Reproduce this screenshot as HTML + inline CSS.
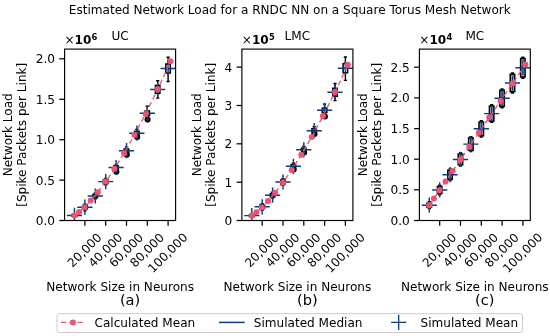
<!DOCTYPE html>
<html lang="en"><head><meta charset="utf-8"><title>Estimated Network Load</title>
<style>html,body{margin:0;padding:0;background:#fff}svg{display:block}</style></head>
<body>
<svg width="550" height="336" viewBox="0 0 550 336" font-family='"DejaVu Sans", "Liberation Sans", sans-serif' font-size="12.07" fill="#000">
<rect width="550" height="336" fill="#fff"/>
<text x="289.8" y="14.3" text-anchor="middle" font-size="12.07">Estimated Network Load for a RNDC NN on a Square Torus Mesh Network</text>
<g>
<clipPath id="c0"><rect x="64.6" y="49.1" width="111.0" height="171.4"/></clipPath>
<g clip-path="url(#c0)">
<path d="M74.5 213.6V214.4M74.5 216.4V217.2M72.9 213.6h3.2M72.9 217.2h3.2" stroke="#000" stroke-width="1.4" fill="none"/>
<rect x="72.2" y="214.4" width="4.5" height="2.0" stroke="#000" stroke-width="1.5" fill="none"/>
<path d="M72.2 215.7h4.5" stroke="#0B3D7E" stroke-width="1.4"/>
<path d="M66.9 215.4h15.2M74.5 207.8v15.2" stroke="#0B3D7E" stroke-width="1.45" fill="none"/>
<path d="M84.9 204.2V205.4M84.9 209.0V210.8M83.3 204.2h3.2M83.3 210.8h3.2" stroke="#000" stroke-width="1.4" fill="none"/>
<rect x="82.6" y="205.4" width="4.5" height="3.6" stroke="#000" stroke-width="1.5" fill="none"/>
<path d="M82.6 207.5h4.5" stroke="#0B3D7E" stroke-width="1.4"/>
<path d="M77.3 207.2h15.2M84.9 199.6v15.2" stroke="#0B3D7E" stroke-width="1.45" fill="none"/>
<path d="M95.3 193.0V194.4M95.3 197.6V198.8M93.7 193.0h3.2M93.7 198.8h3.2" stroke="#000" stroke-width="1.4" fill="none"/>
<rect x="93.0" y="194.4" width="4.5" height="3.2" stroke="#000" stroke-width="1.5" fill="none"/>
<path d="M93.0 196.3h4.5" stroke="#0B3D7E" stroke-width="1.4"/>
<path d="M87.7 196.0h15.2M95.3 188.4v15.2" stroke="#0B3D7E" stroke-width="1.45" fill="none"/>
<path d="M105.7 178.4V179.6M105.7 183.6V184.8M104.1 178.4h3.2M104.1 184.8h3.2" stroke="#000" stroke-width="1.4" fill="none"/>
<rect x="103.4" y="179.6" width="4.5" height="4.0" stroke="#000" stroke-width="1.5" fill="none"/>
<path d="M103.4 181.9h4.5" stroke="#0B3D7E" stroke-width="1.4"/>
<path d="M98.1 181.6h15.2M105.7 174.0v15.2" stroke="#0B3D7E" stroke-width="1.45" fill="none"/>
<path d="M116.1 164.5V165.9M116.1 169.1V170.1M114.5 164.5h3.2M114.5 170.1h3.2" stroke="#000" stroke-width="1.4" fill="none"/>
<rect x="113.8" y="165.9" width="4.5" height="3.2" stroke="#000" stroke-width="1.5" fill="none"/>
<circle cx="116.4" cy="171.7" r="2.1" stroke="#000" stroke-width="1.9" fill="#444"/>
<path d="M113.8 167.8h4.5" stroke="#0B3D7E" stroke-width="1.4"/>
<path d="M108.5 167.5h15.2M116.1 159.9v15.2" stroke="#0B3D7E" stroke-width="1.45" fill="none"/>
<path d="M126.5 147.3V149.0M126.5 152.4V153.5M124.9 147.3h3.2M124.9 153.5h3.2" stroke="#000" stroke-width="1.4" fill="none"/>
<rect x="124.2" y="149.0" width="4.5" height="3.4" stroke="#000" stroke-width="1.5" fill="none"/>
<circle cx="126.8" cy="154.7" r="2.1" stroke="#000" stroke-width="1.9" fill="#444"/>
<path d="M124.2 151.0h4.5" stroke="#0B3D7E" stroke-width="1.4"/>
<path d="M118.9 150.7h15.2M126.5 143.1v15.2" stroke="#0B3D7E" stroke-width="1.45" fill="none"/>
<path d="M136.9 129.2V131.3M136.9 135.1V136.1M135.3 129.2h3.2M135.3 136.1h3.2" stroke="#000" stroke-width="1.4" fill="none"/>
<rect x="134.6" y="131.3" width="4.5" height="3.8" stroke="#000" stroke-width="1.5" fill="none"/>
<circle cx="137.2" cy="137.0" r="2.1" stroke="#000" stroke-width="1.9" fill="#444"/>
<path d="M134.6 133.5h4.5" stroke="#0B3D7E" stroke-width="1.4"/>
<path d="M129.3 133.2h15.2M136.9 125.6v15.2" stroke="#0B3D7E" stroke-width="1.45" fill="none"/>
<path d="M147.3 106.2V111.0M147.3 115.4V116.2M145.7 106.2h3.2M145.7 116.2h3.2" stroke="#000" stroke-width="1.4" fill="none"/>
<rect x="145.0" y="111.0" width="4.5" height="4.4" stroke="#000" stroke-width="1.5" fill="none"/>
<circle cx="147.6" cy="119.6" r="2.1" stroke="#000" stroke-width="1.9" fill="#444"/>
<path d="M145.0 113.5h4.5" stroke="#0B3D7E" stroke-width="1.4"/>
<path d="M139.7 113.2h15.2M147.3 105.6v15.2" stroke="#0B3D7E" stroke-width="1.45" fill="none"/>
<path d="M157.7 80.7V85.4M157.7 93.4V98.1M156.1 80.7h3.2M156.1 98.1h3.2" stroke="#000" stroke-width="1.4" fill="none"/>
<rect x="155.4" y="85.4" width="4.5" height="8.0" stroke="#000" stroke-width="1.5" fill="none"/>
<path d="M155.4 89.7h4.5" stroke="#0B3D7E" stroke-width="1.4"/>
<path d="M150.1 89.4h15.2M157.7 81.8v15.2" stroke="#0B3D7E" stroke-width="1.45" fill="none"/>
<path d="M168.1 57.2V64.0M168.1 73.0V81.5M166.5 57.2h3.2M166.5 81.5h3.2" stroke="#000" stroke-width="1.4" fill="none"/>
<rect x="165.8" y="64.0" width="4.5" height="9.0" stroke="#000" stroke-width="1.5" fill="none"/>
<path d="M165.8 68.8h4.5" stroke="#0B3D7E" stroke-width="1.4"/>
<path d="M160.5 68.5h15.2M168.1 60.9v15.2" stroke="#0B3D7E" stroke-width="1.45" fill="none"/>
<polyline points="74.5,215.6 79.1,212.1 84.5,207.2 90.7,200.6 97.8,192.2 105.7,181.6 114.4,168.8 124.0,153.3 134.4,135.1 145.6,113.9 157.7,89.3 170.6,61.3" stroke="#EE5270" stroke-width="1.3" stroke-dasharray="5.1 3.2" fill="none"/>
<circle cx="74.5" cy="215.6" r="3.0" fill="#EE5270"/>
<circle cx="79.1" cy="212.1" r="3.0" fill="#EE5270"/>
<circle cx="84.5" cy="207.2" r="3.0" fill="#EE5270"/>
<circle cx="90.7" cy="200.6" r="3.0" fill="#EE5270"/>
<circle cx="97.8" cy="192.2" r="3.0" fill="#EE5270"/>
<circle cx="105.7" cy="181.6" r="3.0" fill="#EE5270"/>
<circle cx="114.4" cy="168.8" r="3.0" fill="#EE5270"/>
<circle cx="124.0" cy="153.3" r="3.0" fill="#EE5270"/>
<circle cx="134.4" cy="135.1" r="3.0" fill="#EE5270"/>
<circle cx="145.6" cy="113.9" r="3.0" fill="#EE5270"/>
<circle cx="157.7" cy="89.3" r="3.0" fill="#EE5270"/>
<circle cx="170.6" cy="61.3" r="3.0" fill="#EE5270"/>
</g>
<rect x="64.6" y="49.1" width="111.0" height="171.4" fill="none" stroke="#000" stroke-width="1.15"/>
<path d="M64.6 220.5h-5.3" stroke="#000" stroke-width="1.25"/>
<text x="55.0" y="225.0" text-anchor="end" font-size="12.15">0.0</text>
<path d="M64.6 180.1h-5.3" stroke="#000" stroke-width="1.25"/>
<text x="55.0" y="184.6" text-anchor="end" font-size="12.15">0.5</text>
<path d="M64.6 139.7h-5.3" stroke="#000" stroke-width="1.25"/>
<text x="55.0" y="144.2" text-anchor="end" font-size="12.15">1.0</text>
<path d="M64.6 99.3h-5.3" stroke="#000" stroke-width="1.25"/>
<text x="55.0" y="103.8" text-anchor="end" font-size="12.15">1.5</text>
<path d="M64.6 58.8h-5.3" stroke="#000" stroke-width="1.25"/>
<text x="55.0" y="63.3" text-anchor="end" font-size="12.15">2.0</text>
<path d="M84.9 220.5v5.3" stroke="#000" stroke-width="1.25"/>
<text transform="translate(84.9 250.5) rotate(-45)" x="0" y="3.7" text-anchor="middle">20,000</text>
<path d="M105.7 220.5v5.3" stroke="#000" stroke-width="1.25"/>
<text transform="translate(105.7 250.5) rotate(-45)" x="0" y="3.7" text-anchor="middle">40,000</text>
<path d="M126.5 220.5v5.3" stroke="#000" stroke-width="1.25"/>
<text transform="translate(126.5 250.5) rotate(-45)" x="0" y="3.7" text-anchor="middle">60,000</text>
<path d="M147.3 220.5v5.3" stroke="#000" stroke-width="1.25"/>
<text transform="translate(147.3 250.5) rotate(-45)" x="0" y="3.7" text-anchor="middle">80,000</text>
<path d="M168.1 220.5v5.3" stroke="#000" stroke-width="1.25"/>
<text transform="translate(168.1 253.2) rotate(-45)" x="0" y="3.7" text-anchor="middle">100,000</text>
<text x="64.4" y="44.4">×<tspan font-weight="bold" dx="0.1">10</tspan><tspan font-weight="bold" font-size="8.4" dy="-4.5" dx="0.2">6</tspan></text>
<text x="120.1" y="39.7" text-anchor="middle">UC</text>
<text transform="translate(12.4 134.8) rotate(-90)" text-anchor="middle">Network Load</text>
<text transform="translate(26.1 134.8) rotate(-90)" text-anchor="middle">[Spike Packets per Link]</text>
<text x="120.1" y="290.5" text-anchor="middle">Network Size in Neurons</text>
<text x="130.1" y="305.3" text-anchor="middle" font-size="14.6">(a)</text>
</g>
<g>
<clipPath id="c1"><rect x="241.9" y="49.1" width="111.0" height="171.4"/></clipPath>
<g clip-path="url(#c1)">
<path d="M251.8 213.8V214.6M251.8 216.6V217.4M250.2 213.8h3.2M250.2 217.4h3.2" stroke="#000" stroke-width="1.4" fill="none"/>
<rect x="249.5" y="214.6" width="4.5" height="2.0" stroke="#000" stroke-width="1.5" fill="none"/>
<path d="M249.5 215.9h4.5" stroke="#0B3D7E" stroke-width="1.4"/>
<path d="M244.2 215.6h15.2M251.8 208.0v15.2" stroke="#0B3D7E" stroke-width="1.45" fill="none"/>
<path d="M262.2 203.8V205.0M262.2 208.6V210.2M260.6 203.8h3.2M260.6 210.2h3.2" stroke="#000" stroke-width="1.4" fill="none"/>
<rect x="259.9" y="205.0" width="4.5" height="3.6" stroke="#000" stroke-width="1.5" fill="none"/>
<path d="M259.9 207.1h4.5" stroke="#0B3D7E" stroke-width="1.4"/>
<path d="M254.6 206.8h15.2M262.2 199.2v15.2" stroke="#0B3D7E" stroke-width="1.45" fill="none"/>
<path d="M272.6 192.2V193.6M272.6 196.8V198.0M271.0 192.2h3.2M271.0 198.0h3.2" stroke="#000" stroke-width="1.4" fill="none"/>
<rect x="270.3" y="193.6" width="4.5" height="3.2" stroke="#000" stroke-width="1.5" fill="none"/>
<path d="M270.3 195.5h4.5" stroke="#0B3D7E" stroke-width="1.4"/>
<path d="M265.0 195.2h15.2M272.6 187.6v15.2" stroke="#0B3D7E" stroke-width="1.45" fill="none"/>
<path d="M283.0 178.8V180.0M283.0 184.0V185.2M281.4 178.8h3.2M281.4 185.2h3.2" stroke="#000" stroke-width="1.4" fill="none"/>
<rect x="280.7" y="180.0" width="4.5" height="4.0" stroke="#000" stroke-width="1.5" fill="none"/>
<path d="M280.7 182.3h4.5" stroke="#0B3D7E" stroke-width="1.4"/>
<path d="M275.4 182.0h15.2M283.0 174.4v15.2" stroke="#0B3D7E" stroke-width="1.45" fill="none"/>
<path d="M293.4 163.3V164.7M293.4 167.9V168.9M291.8 163.3h3.2M291.8 168.9h3.2" stroke="#000" stroke-width="1.4" fill="none"/>
<rect x="291.1" y="164.7" width="4.5" height="3.2" stroke="#000" stroke-width="1.5" fill="none"/>
<circle cx="293.7" cy="169.5" r="2.1" stroke="#000" stroke-width="1.9" fill="#444"/>
<path d="M291.1 166.6h4.5" stroke="#0B3D7E" stroke-width="1.4"/>
<path d="M285.8 166.3h15.2M293.4 158.7v15.2" stroke="#0B3D7E" stroke-width="1.45" fill="none"/>
<path d="M303.8 146.4V148.1M303.8 151.5V152.4M302.2 146.4h3.2M302.2 152.4h3.2" stroke="#000" stroke-width="1.4" fill="none"/>
<rect x="301.5" y="148.1" width="4.5" height="3.4" stroke="#000" stroke-width="1.5" fill="none"/>
<circle cx="304.1" cy="152.4" r="2.1" stroke="#000" stroke-width="1.9" fill="#444"/>
<path d="M301.5 150.1h4.5" stroke="#0B3D7E" stroke-width="1.4"/>
<path d="M296.2 149.8h15.2M303.8 142.2v15.2" stroke="#0B3D7E" stroke-width="1.45" fill="none"/>
<path d="M314.2 126.7V128.8M314.2 132.6V133.5M312.6 126.7h3.2M312.6 133.5h3.2" stroke="#000" stroke-width="1.4" fill="none"/>
<rect x="311.9" y="128.8" width="4.5" height="3.8" stroke="#000" stroke-width="1.5" fill="none"/>
<circle cx="314.5" cy="134.1" r="2.1" stroke="#000" stroke-width="1.9" fill="#444"/>
<path d="M311.9 131.0h4.5" stroke="#0B3D7E" stroke-width="1.4"/>
<path d="M306.6 130.7h15.2M314.2 123.1v15.2" stroke="#0B3D7E" stroke-width="1.45" fill="none"/>
<path d="M324.6 104.1V108.1M324.6 112.5V113.3M323.0 104.1h3.2M323.0 113.3h3.2" stroke="#000" stroke-width="1.4" fill="none"/>
<rect x="322.3" y="108.1" width="4.5" height="4.4" stroke="#000" stroke-width="1.5" fill="none"/>
<circle cx="324.9" cy="116.5" r="2.1" stroke="#000" stroke-width="1.9" fill="#444"/>
<path d="M322.3 110.6h4.5" stroke="#0B3D7E" stroke-width="1.4"/>
<path d="M317.0 110.3h15.2M324.6 102.7v15.2" stroke="#0B3D7E" stroke-width="1.45" fill="none"/>
<path d="M335.0 83.5V88.3M335.0 96.3V100.6M333.4 83.5h3.2M333.4 100.6h3.2" stroke="#000" stroke-width="1.4" fill="none"/>
<rect x="332.7" y="88.3" width="4.5" height="8.0" stroke="#000" stroke-width="1.5" fill="none"/>
<path d="M332.7 92.6h4.5" stroke="#0B3D7E" stroke-width="1.4"/>
<path d="M327.4 92.3h15.2M335.0 84.7v15.2" stroke="#0B3D7E" stroke-width="1.45" fill="none"/>
<path d="M345.4 57.0V63.7M345.4 72.7V80.4M343.8 57.0h3.2M343.8 80.4h3.2" stroke="#000" stroke-width="1.4" fill="none"/>
<rect x="343.1" y="63.7" width="4.5" height="9.0" stroke="#000" stroke-width="1.5" fill="none"/>
<path d="M343.1 68.5h4.5" stroke="#0B3D7E" stroke-width="1.4"/>
<path d="M337.8 68.2h15.2M345.4 60.6v15.2" stroke="#0B3D7E" stroke-width="1.45" fill="none"/>
<polyline points="251.8,215.7 256.4,212.3 261.8,207.5 268.0,201.0 275.1,192.8 283.0,182.5 291.7,169.9 301.3,154.8 311.7,136.9 322.9,116.1 335.0,92.1 347.9,64.7" stroke="#EE5270" stroke-width="1.3" stroke-dasharray="5.1 3.2" fill="none"/>
<circle cx="251.8" cy="215.7" r="3.0" fill="#EE5270"/>
<circle cx="256.4" cy="212.3" r="3.0" fill="#EE5270"/>
<circle cx="261.8" cy="207.5" r="3.0" fill="#EE5270"/>
<circle cx="268.0" cy="201.0" r="3.0" fill="#EE5270"/>
<circle cx="275.1" cy="192.8" r="3.0" fill="#EE5270"/>
<circle cx="283.0" cy="182.5" r="3.0" fill="#EE5270"/>
<circle cx="291.7" cy="169.9" r="3.0" fill="#EE5270"/>
<circle cx="301.3" cy="154.8" r="3.0" fill="#EE5270"/>
<circle cx="311.7" cy="136.9" r="3.0" fill="#EE5270"/>
<circle cx="322.9" cy="116.1" r="3.0" fill="#EE5270"/>
<circle cx="335.0" cy="92.1" r="3.0" fill="#EE5270"/>
<circle cx="347.9" cy="64.7" r="3.0" fill="#EE5270"/>
</g>
<rect x="241.9" y="49.1" width="111.0" height="171.4" fill="none" stroke="#000" stroke-width="1.15"/>
<path d="M241.9 220.5h-5.3" stroke="#000" stroke-width="1.25"/>
<text x="232.3" y="225.0" text-anchor="end" font-size="12.15">0</text>
<path d="M241.9 182.2h-5.3" stroke="#000" stroke-width="1.25"/>
<text x="232.3" y="186.7" text-anchor="end" font-size="12.15">1</text>
<path d="M241.9 143.8h-5.3" stroke="#000" stroke-width="1.25"/>
<text x="232.3" y="148.3" text-anchor="end" font-size="12.15">2</text>
<path d="M241.9 105.5h-5.3" stroke="#000" stroke-width="1.25"/>
<text x="232.3" y="110.0" text-anchor="end" font-size="12.15">3</text>
<path d="M241.9 67.1h-5.3" stroke="#000" stroke-width="1.25"/>
<text x="232.3" y="71.6" text-anchor="end" font-size="12.15">4</text>
<path d="M262.2 220.5v5.3" stroke="#000" stroke-width="1.25"/>
<text transform="translate(262.2 250.5) rotate(-45)" x="0" y="3.7" text-anchor="middle">20,000</text>
<path d="M283.0 220.5v5.3" stroke="#000" stroke-width="1.25"/>
<text transform="translate(283.0 250.5) rotate(-45)" x="0" y="3.7" text-anchor="middle">40,000</text>
<path d="M303.8 220.5v5.3" stroke="#000" stroke-width="1.25"/>
<text transform="translate(303.8 250.5) rotate(-45)" x="0" y="3.7" text-anchor="middle">60,000</text>
<path d="M324.6 220.5v5.3" stroke="#000" stroke-width="1.25"/>
<text transform="translate(324.6 250.5) rotate(-45)" x="0" y="3.7" text-anchor="middle">80,000</text>
<path d="M345.4 220.5v5.3" stroke="#000" stroke-width="1.25"/>
<text transform="translate(345.4 253.2) rotate(-45)" x="0" y="3.7" text-anchor="middle">100,000</text>
<text x="241.7" y="44.4">×<tspan font-weight="bold" dx="0.1">10</tspan><tspan font-weight="bold" font-size="8.4" dy="-4.5" dx="0.2">5</tspan></text>
<text x="297.4" y="39.7" text-anchor="middle">LMC</text>
<text transform="translate(201.2 134.8) rotate(-90)" text-anchor="middle">Network Load</text>
<text transform="translate(214.9 134.8) rotate(-90)" text-anchor="middle">[Spike Packets per Link]</text>
<text x="297.4" y="290.5" text-anchor="middle">Network Size in Neurons</text>
<text x="307.4" y="305.3" text-anchor="middle" font-size="14.6">(b)</text>
</g>
<g>
<clipPath id="c2"><rect x="419.4" y="49.1" width="110.9" height="171.4"/></clipPath>
<g clip-path="url(#c2)">
<path d="M429.3 201.8V203.1M429.3 207.3V208.6M427.7 201.8h3.2M427.7 208.6h3.2" stroke="#000" stroke-width="1.4" fill="none"/>
<rect x="427.0" y="203.1" width="4.5" height="4.2" stroke="#000" stroke-width="1.5" fill="#9bb9e6"/>
<path d="M427.0 205.6h4.5" stroke="#0B3D7E" stroke-width="1.4"/>
<path d="M421.7 205.2h15.2M429.3 197.6v15.2" stroke="#0B3D7E" stroke-width="1.45" fill="none"/>
<path d="M439.7 185.2V186.5M439.7 193.4V194.7M438.1 185.2h3.2M438.1 194.7h3.2" stroke="#000" stroke-width="1.4" fill="none"/>
<rect x="437.4" y="186.5" width="4.5" height="6.9" stroke="#000" stroke-width="1.5" fill="#9bb9e6"/>
<path d="M437.4 190.3h4.5" stroke="#0B3D7E" stroke-width="1.4"/>
<path d="M432.1 189.9h15.2M439.7 182.3v15.2" stroke="#0B3D7E" stroke-width="1.45" fill="none"/>
<path d="M450.1 168.9V170.2M450.1 179.2V180.5M448.5 168.9h3.2M448.5 180.5h3.2" stroke="#000" stroke-width="1.4" fill="none"/>
<rect x="447.8" y="170.2" width="4.5" height="9.0" stroke="#000" stroke-width="1.5" fill="#9bb9e6"/>
<path d="M447.8 175.1h4.5" stroke="#0B3D7E" stroke-width="1.4"/>
<path d="M442.5 174.7h15.2M450.1 167.1v15.2" stroke="#0B3D7E" stroke-width="1.45" fill="none"/>
<path d="M460.5 152.7V154.0M460.5 164.8V166.1M458.9 152.7h3.2M458.9 166.1h3.2" stroke="#000" stroke-width="1.4" fill="none"/>
<rect x="458.2" y="154.0" width="4.5" height="10.8" stroke="#000" stroke-width="1.5" fill="#9bb9e6"/>
<path d="M458.2 159.8h4.5" stroke="#0B3D7E" stroke-width="1.4"/>
<path d="M452.9 159.4h15.2M460.5 151.8v15.2" stroke="#0B3D7E" stroke-width="1.45" fill="none"/>
<path d="M470.9 136.6V137.9M470.9 150.3V151.6M469.3 136.6h3.2M469.3 151.6h3.2" stroke="#000" stroke-width="1.4" fill="none"/>
<rect x="468.6" y="137.9" width="4.5" height="12.4" stroke="#000" stroke-width="1.5" fill="#9bb9e6"/>
<path d="M468.6 144.5h4.5" stroke="#0B3D7E" stroke-width="1.4"/>
<path d="M463.3 144.1h15.2M470.9 136.5v15.2" stroke="#0B3D7E" stroke-width="1.45" fill="none"/>
<path d="M481.3 120.7V122.0M481.3 135.7V137.0M479.7 120.7h3.2M479.7 137.0h3.2" stroke="#000" stroke-width="1.4" fill="none"/>
<rect x="479.0" y="122.0" width="4.5" height="13.8" stroke="#000" stroke-width="1.5" fill="#9bb9e6"/>
<path d="M479.0 129.2h4.5" stroke="#0B3D7E" stroke-width="1.4"/>
<path d="M473.7 128.8h15.2M481.3 121.2v15.2" stroke="#0B3D7E" stroke-width="1.45" fill="none"/>
<path d="M491.7 104.7V106.0M491.7 121.1V122.4M490.1 104.7h3.2M490.1 122.4h3.2" stroke="#000" stroke-width="1.4" fill="none"/>
<rect x="489.4" y="106.0" width="4.5" height="15.1" stroke="#000" stroke-width="1.5" fill="#9bb9e6"/>
<path d="M489.4 114.0h4.5" stroke="#0B3D7E" stroke-width="1.4"/>
<path d="M484.1 113.6h15.2M491.7 106.0v15.2" stroke="#0B3D7E" stroke-width="1.45" fill="none"/>
<path d="M502.1 88.9V90.2M502.1 106.4V107.7M500.5 88.9h3.2M500.5 107.7h3.2" stroke="#000" stroke-width="1.4" fill="none"/>
<rect x="499.8" y="90.2" width="4.5" height="16.3" stroke="#000" stroke-width="1.5" fill="#9bb9e6"/>
<path d="M499.8 98.7h4.5" stroke="#0B3D7E" stroke-width="1.4"/>
<path d="M494.5 98.3h15.2M502.1 90.7v15.2" stroke="#0B3D7E" stroke-width="1.45" fill="none"/>
<path d="M512.5 73.0V74.3M512.5 91.7V93.0M510.9 73.0h3.2M510.9 93.0h3.2" stroke="#000" stroke-width="1.4" fill="none"/>
<rect x="510.2" y="74.3" width="4.5" height="17.4" stroke="#000" stroke-width="1.5" fill="#9bb9e6"/>
<path d="M510.2 83.4h4.5" stroke="#0B3D7E" stroke-width="1.4"/>
<path d="M504.9 83.0h15.2M512.5 75.4v15.2" stroke="#0B3D7E" stroke-width="1.45" fill="none"/>
<path d="M522.9 57.2V58.5M522.9 77.0V78.3M521.3 57.2h3.2M521.3 78.3h3.2" stroke="#000" stroke-width="1.4" fill="none"/>
<rect x="520.6" y="58.5" width="4.5" height="18.5" stroke="#000" stroke-width="1.5" fill="#9bb9e6"/>
<path d="M520.6 68.1h4.5" stroke="#0B3D7E" stroke-width="1.4"/>
<path d="M515.3 67.7h15.2M522.9 60.1v15.2" stroke="#0B3D7E" stroke-width="1.45" fill="none"/>
<polyline points="429.3,205.3 433.9,198.6 439.3,190.6 445.5,181.5 452.6,171.1 460.5,159.6 469.2,146.8 478.8,132.8 489.2,117.5 500.4,101.1 512.5,83.4 525.4,64.5" stroke="#EE5270" stroke-width="1.3" stroke-dasharray="5.1 3.2" fill="none"/>
<circle cx="429.3" cy="205.3" r="3.0" fill="#EE5270"/>
<circle cx="433.9" cy="198.6" r="3.0" fill="#EE5270"/>
<circle cx="439.3" cy="190.6" r="3.0" fill="#EE5270"/>
<circle cx="445.5" cy="181.5" r="3.0" fill="#EE5270"/>
<circle cx="452.6" cy="171.1" r="3.0" fill="#EE5270"/>
<circle cx="460.5" cy="159.6" r="3.0" fill="#EE5270"/>
<circle cx="469.2" cy="146.8" r="3.0" fill="#EE5270"/>
<circle cx="478.8" cy="132.8" r="3.0" fill="#EE5270"/>
<circle cx="489.2" cy="117.5" r="3.0" fill="#EE5270"/>
<circle cx="500.4" cy="101.1" r="3.0" fill="#EE5270"/>
<circle cx="512.5" cy="83.4" r="3.0" fill="#EE5270"/>
<circle cx="525.4" cy="64.5" r="3.0" fill="#EE5270"/>
</g>
<rect x="419.4" y="49.1" width="110.9" height="171.4" fill="none" stroke="#000" stroke-width="1.15"/>
<path d="M419.4 220.5h-5.3" stroke="#000" stroke-width="1.25"/>
<text x="409.8" y="225.0" text-anchor="end" font-size="12.15">0.0</text>
<path d="M419.4 189.8h-5.3" stroke="#000" stroke-width="1.25"/>
<text x="409.8" y="194.3" text-anchor="end" font-size="12.15">0.5</text>
<path d="M419.4 159.2h-5.3" stroke="#000" stroke-width="1.25"/>
<text x="409.8" y="163.7" text-anchor="end" font-size="12.15">1.0</text>
<path d="M419.4 128.6h-5.3" stroke="#000" stroke-width="1.25"/>
<text x="409.8" y="133.1" text-anchor="end" font-size="12.15">1.5</text>
<path d="M419.4 97.9h-5.3" stroke="#000" stroke-width="1.25"/>
<text x="409.8" y="102.4" text-anchor="end" font-size="12.15">2.0</text>
<path d="M419.4 67.2h-5.3" stroke="#000" stroke-width="1.25"/>
<text x="409.8" y="71.8" text-anchor="end" font-size="12.15">2.5</text>
<path d="M439.7 220.5v5.3" stroke="#000" stroke-width="1.25"/>
<text transform="translate(439.7 250.5) rotate(-45)" x="0" y="3.7" text-anchor="middle">20,000</text>
<path d="M460.5 220.5v5.3" stroke="#000" stroke-width="1.25"/>
<text transform="translate(460.5 250.5) rotate(-45)" x="0" y="3.7" text-anchor="middle">40,000</text>
<path d="M481.3 220.5v5.3" stroke="#000" stroke-width="1.25"/>
<text transform="translate(481.3 250.5) rotate(-45)" x="0" y="3.7" text-anchor="middle">60,000</text>
<path d="M502.1 220.5v5.3" stroke="#000" stroke-width="1.25"/>
<text transform="translate(502.1 250.5) rotate(-45)" x="0" y="3.7" text-anchor="middle">80,000</text>
<path d="M522.9 220.5v5.3" stroke="#000" stroke-width="1.25"/>
<text transform="translate(522.9 253.2) rotate(-45)" x="0" y="3.7" text-anchor="middle">100,000</text>
<text x="419.2" y="44.4">×<tspan font-weight="bold" dx="0.1">10</tspan><tspan font-weight="bold" font-size="8.4" dy="-4.5" dx="0.2">4</tspan></text>
<text x="474.8" y="39.7" text-anchor="middle">MC</text>
<text transform="translate(367.2 134.8) rotate(-90)" text-anchor="middle">Network Load</text>
<text transform="translate(381.4 134.8) rotate(-90)" text-anchor="middle">[Spike Packets per Link]</text>
<text x="474.8" y="290.5" text-anchor="middle">Network Size in Neurons</text>
<text x="484.8" y="305.3" text-anchor="middle" font-size="14.6">(c)</text>
</g>
<rect x="57.0" y="313.7" width="465.5" height="18.8" rx="2.4" fill="#fff" stroke="#ccc" stroke-width="1"/>
<path d="M60.9 322.4h24" stroke="#EE5270" stroke-width="1.3" stroke-dasharray="5.1 3.25" fill="none"/>
<circle cx="72.9" cy="322.4" r="3.0" fill="#EE5270"/>
<text x="94.5" y="326.8">Calculated Mean</text>
<path d="M219.0 322.4h25.7" stroke="#0B3D7E" stroke-width="1.5"/>
<text x="253.8" y="326.8">Simulated Median</text>
<path d="M391.1 322.4h15.2M398.7 314.79999999999995v15.2" stroke="#0B3D7E" stroke-width="1.3" fill="none"/>
<text x="420.5" y="326.8">Simulated Mean</text>
</svg>
</body></html>
